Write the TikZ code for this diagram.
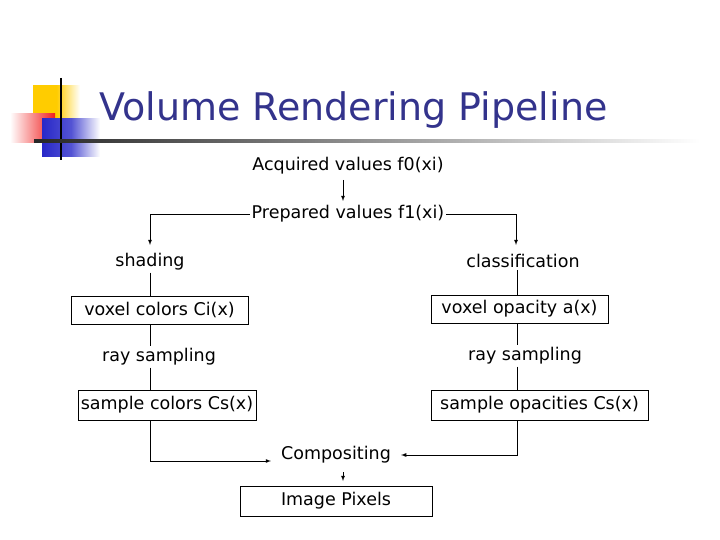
\documentclass[tikz,border=0pt]{standalone}
\usepackage{fontspec}
\setmainfont{DejaVu Sans}
\usetikzlibrary{positioning}
\definecolor{titleblue}{RGB}{51,51,140}
\definecolor{logoyellow}{RGB}{255,204,0}
\definecolor{logored}{RGB}{240,30,30}
\definecolor{logoblue}{RGB}{40,40,200}
\tikzset{
  lbl/.style={font=\fontsize{17.5}{20}\selectfont, inner sep=2pt},
  box/.style={lbl, draw, line width=0.8pt, minimum height=28pt, inner sep=0pt},
  ln/.style={line width=0.8pt},
  arr/.style={ln, -latex}
}
\begin{document}
\begin{tikzpicture}[x=1pt,y=-1pt]
		\useasboundingbox (0,0) rectangle (720,540);

		% Logo
		\shade[left color=logoyellow, right color=white, middle color=logoyellow] (33,86) rectangle (80,121);
		\shade[left color=white, right color=logored] (10,114) rectangle (55,143);
		\shade[left color=logoblue, right color=white, middle color=logoblue!80] (42,119) rectangle (100,157);
		\draw[line width=2pt] (61,78) -- (61,160);
		\shade[left color=black!85, right color=white] (34,140) rectangle (700,142.5);

		% Titel
		\node[titleblue, font=\fontsize{38}{44}\selectfont, anchor=west, inner sep=0pt] (title) at (99,110) {Volume Rendering Pipeline};

		% Knoten
		\node[lbl] (acq) at (348,166) {Acquired values f0(xi)};
		\node[lbl] (prep) at (348,214) {Prepared values f1(xi)};
		\node[lbl] (shade) at (150,262) {shading};
		\node[lbl] (class) at (523,261) {classification};
		\node[box, minimum width=177pt] (vcol) at (159.5,310.5) {voxel colors Ci(x)};
		\node[box, minimum width=177pt] (vopa) at (519.5,309) {voxel opacity a(x)};
		\node[lbl] (rayl) at (159,357) {ray sampling};
		\node[lbl] (rayr) at (525,356) {ray sampling};
		\node[box, minimum width=178pt, minimum height=30pt] (scol) at (167,405) {sample colors Cs(x)};
		\node[box, minimum width=217pt, minimum height=30pt] (sopa) at (539.5,405) {sample opacities Cs(x)};
		\node[lbl] (comp) at (336,455) {Compositing};
		\node[box, minimum width=192pt, minimum height=30pt] (img) at (336,501) {Image Pixels};

		% Verbindungen
		\draw[arr] (343,180) -- (343,201);
		\draw[arr] (prep.west) -| (150,245);
		\draw[arr] (prep.east) -| (516,245);
		\draw[ln] (shade.south) -- (vcol.north -| shade);
		\draw[ln] (vcol.south -| shade) -- (rayl.north -| shade);
		\draw[ln] (rayl.south -| shade) -- (scol.north -| shade);
		\draw[ln] (class.south -| 517,0) -- (vopa.north -| 517,0);
		\draw[ln] (vopa.south -| 517,0) -- (rayr.north -| 517,0);
		\draw[ln] (rayr.south -| 517,0) -- (sopa.north -| 517,0);
		\draw[arr] (scol.south -| shade) |- ([xshift=-8pt,yshift=-6pt]comp.west);
		\draw[arr] (sopa.south -| 517,0) |- ([xshift=8pt]comp.east);
		\draw[arr] (343,472) -- (343,481);
	\end{tikzpicture}
\end{document}
